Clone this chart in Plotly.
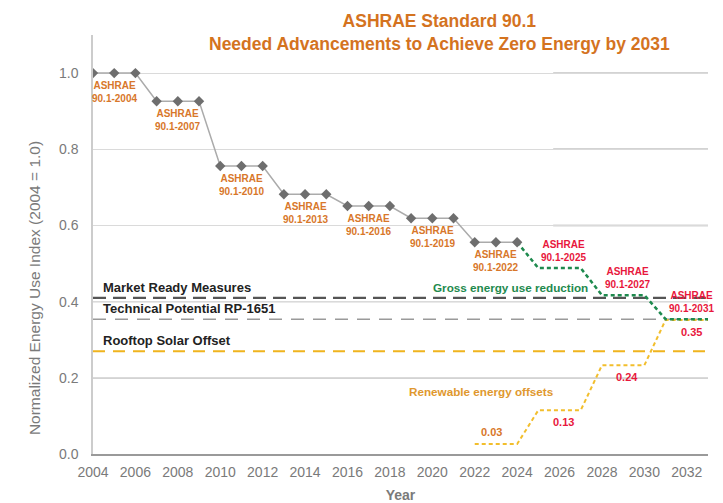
import plotly.graph_objects as go

# adopted standards (each in force for 3 years)
standard_names = ["90.1-2004", "90.1-2007", "90.1-2010", "90.1-2013",
                  "90.1-2016", "90.1-2019", "90.1-2022"]
standard_years = [2004, 2007, 2010, 2013, 2016, 2019, 2022]
standard_eui = [1.0, 0.926, 0.756, 0.682, 0.651, 0.619, 0.556]

# needed future standards
future_names = ["90.1-2025", "90.1-2027", "90.1-2031"]
future_years = [2025, 2028, 2031]
future_eui = [0.488, 0.417, 0.354]

# renewable energy offsets
renew_years = [2022, 2025, 2028, 2031]
renew_vals = [0.026, 0.115, 0.233, 0.352]
renew_labels = ["0.03", "0.13", "0.24", "0.35"]

# reference levels
market_ready = 0.41
technical_potential = 0.354
rooftop_solar = 0.27

x_end = 2033
grid_vals = [0.2, 0.4, 0.6, 0.8, 1.0]

ORANGE = "#D8772A"
RED = "#E8173C"
GREEN = "#1E8A4E"
YELLOW = "#F2BE2C"
FONT = "Liberation Sans"

# build series
gx, gy = [], []
for yr, v in zip(standard_years, standard_eui):
    for k in range(3):
        gx.append(yr + k)
        gy.append(v)

fx, fy = [gx[-1]], [gy[-1]]
for yr, v in zip(future_years, future_eui):
    fx += [yr, min(yr + 2, x_end)]
    fy += [v, v]
fx[-1] = x_end

rx, ry = [], []
for yr, v in zip(renew_years, renew_vals):
    rx += [yr, min(yr + 2, x_end)]
    ry += [v, v]
rx[-1] = x_end

fig = go.Figure()

fig.add_trace(go.Scatter(x=[2004, x_end], y=[technical_potential] * 2, mode="lines",
                         line=dict(color="#9a9a9a", width=1.5, dash="13px,9px"),
                         hoverinfo="skip"))
fig.add_trace(go.Scatter(x=[2004, x_end], y=[market_ready] * 2, mode="lines",
                         line=dict(color="#555555", width=2.2, dash="13px,7px"),
                         hoverinfo="skip"))
fig.add_trace(go.Scatter(x=[2004, x_end], y=[rooftop_solar] * 2, mode="lines",
                         line=dict(color="#F0B41E", width=2, dash="12px,8px"),
                         hoverinfo="skip"))
fig.add_trace(go.Scatter(x=rx, y=ry, mode="lines",
                         line=dict(color=YELLOW, width=2, dash="4px,3px")))
fig.add_trace(go.Scatter(x=fx, y=fy, mode="lines",
                         line=dict(color=GREEN, width=2.5, dash="4px,3px")))
fig.add_trace(go.Scatter(x=gx, y=gy, mode="lines+markers",
                         line=dict(color="#ababab", width=1.5),
                         marker=dict(symbol="diamond", size=8, color="#6e6e6e")))

ann = []
for name, yr, v in zip(standard_names, standard_years, standard_eui):
    ann.append(dict(x=yr + 1, y=v, text="<b>ASHRAE<br>" + name + "</b>", showarrow=False,
                    yanchor="top", yshift=-5,
                    font=dict(size=10, color=ORANGE, family=FONT)))
for name, yr, v in zip(future_names, future_years, future_eui):
    ann.append(dict(x=yr + 1.2, y=v, text="<b>ASHRAE<br>" + name + "</b>", showarrow=False,
                    yanchor="bottom", yshift=3,
                    font=dict(size=10, color=RED, family=FONT)))
for i, (lab, yr, v) in enumerate(zip(renew_labels, renew_years, renew_vals)):
    ann.append(dict(x=yr + (0.8 if i == 0 else 1.2), y=v, text="<b>" + lab + "</b>",
                    showarrow=False,
                    yanchor="bottom" if i == 0 else "top",
                    yshift=4 if i == 0 else -4,
                    font=dict(size=11, color=ORANGE if i == 0 else RED, family=FONT)))

for txt, v in [("Market Ready Measures", market_ready),
               ("Technical Potential RP-1651", technical_potential),
               ("Rooftop Solar Offset", rooftop_solar)]:
    ann.append(dict(x=2004.4, y=v, text="<b>" + txt + "</b>", showarrow=False,
                    xanchor="left", yanchor="bottom", yshift=1,
                    font=dict(size=13, color="#222222", family=FONT)))

ann.append(dict(x=2023.7, y=0.436, text="<b>Gross energy use reduction</b>",
                showarrow=False, font=dict(size=11.7, color=GREEN, family=FONT)))
ann.append(dict(x=2022.3, y=0.163, text="<b>Renewable energy offsets</b>",
                showarrow=False, font=dict(size=11.7, color="#E0982E", family=FONT)))

# axis title and chart title placed by hand
ann.append(dict(x=-0.094, xref="paper", y=0.436, yref="y",
                xanchor="center", yanchor="middle",
                text="Normalized Energy Use Index (2004 = 1.0)", textangle=-90,
                showarrow=False, font=dict(size=15.5, color="#7a7a7a", family=FONT)))
ann.append(dict(x=0.564, xref="paper", y=1.005, yref="paper",
                xanchor="center", yanchor="middle", showarrow=False,
                text="<b>ASHRAE Standard 90.1<br>Needed Advancements to Achieve Zero Energy by 2031</b>",
                font=dict(size=17.5, color="#D4731F", family=FONT)))

# gridlines look darker towards the right / bottom in the source image
shapes = []
for g in grid_vals:
    x0 = 2004 if g < 0.5 else 2025.7
    shapes.append(dict(type="line", xref="x", yref="y", x0=x0, x1=x_end, y0=g, y1=g,
                       line=dict(color="#a8a8a8", width=1.4), layer="below"))

fig.update_layout(
    width=715, height=495,
    margin=dict(l=85, r=15, t=27, b=49, autoexpand=False),
    paper_bgcolor="white", plot_bgcolor="white",
    showlegend=False,
    annotations=ann,
    shapes=shapes,
    font=dict(family=FONT),
)
fig.update_xaxes(range=[2004, x_end], tickvals=list(range(2004, 2033, 2)),
                 showgrid=False, zeroline=False, showline=True, linecolor="#9a9a9a",
                 linewidth=1.5, ticklabelstandoff=4, automargin=False,
                 tickfont=dict(size=14, color="#7a7a7a"),
                 title=dict(text="<b>Year</b>", standoff=14,
                            font=dict(size=14, color="#7a7a7a")))
fig.update_yaxes(range=[0, 1.1], tickvals=[0, 0.2, 0.4, 0.6, 0.8, 1.0], tickformat=".1f",
                 showgrid=True, gridcolor="#dadada", gridwidth=1.2, zeroline=False,
                 showline=True, linecolor="#cccccc", linewidth=1.5, ticklabelstandoff=10,
                 automargin=False, tickfont=dict(size=14, color="#7a7a7a"))

fig.write_html("out.html")
